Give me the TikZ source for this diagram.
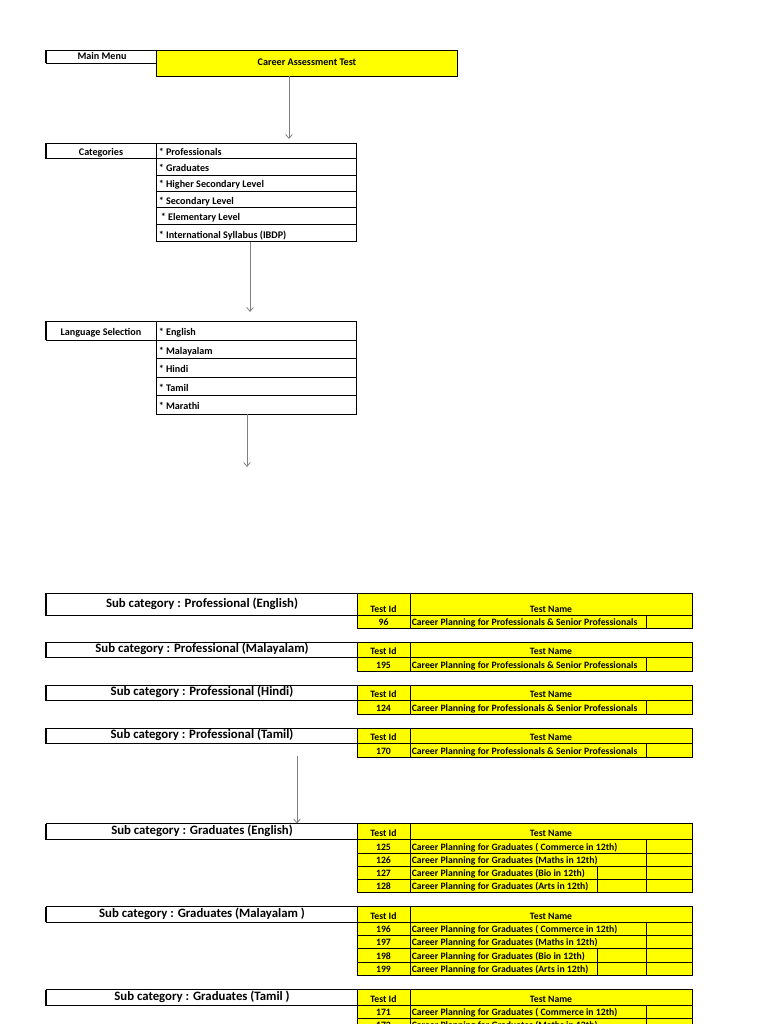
\documentclass[tikz,border=0pt]{standalone}
\usepackage{fontspec}
\setmainfont{Carlito}
\usetikzlibrary{fit,arrows.meta}
\definecolor{yel}{HTML}{FFFF00}
\definecolor{arrgray}{HTML}{7F7F7F}
\tikzset{
  box/.style={draw=black, line width=0.6pt, inner sep=0pt, outer sep=0pt},
  txt/.style={font=\fontsize{7.6}{9}\selectfont\bfseries, inner sep=0pt},
  ttxt/.style={font=\fontsize{7.3}{9}\selectfont\bfseries, inner sep=0pt},
  sub/.style={font=\fontsize{9.6}{11}\selectfont\bfseries, inner sep=0pt},
  arr/.style={draw=arrgray, line width=0.6pt, -{Straight Barb[length=3pt,width=5pt]}},
  thickleft/.style={line width=1.5pt}
}
\newcommand\bx[6]{\node[box,#6,fit={(#2,#3) (#4,#5)}] (#1) {};}
\newcommand\tL[4]{\node[txt,anchor=base west] (#1) at (#2,#3) {#4};}
\newcommand\tC[4]{\node[txt,anchor=base] (#1) at (#2,#3) {#4};}
\newcommand\tbL[4]{\node[ttxt,anchor=base west] (#1) at (#2,#3) {#4};}
\newcommand\tbC[4]{\node[ttxt,anchor=base] (#1) at (#2,#3) {#4};}
\newcommand\tablehead[4]{%
  \bx{#1box}{46}{#2}{357}{#3}{}
  \draw[thickleft] (#1box.north west) -- (#1box.south west);
  \node[sub] (#1sub) at (202,{(#2+#3)/2-0.5}) {#4};
  \bx{#1hid}{357}{#2}{410}{#3}{fill=yel}
  \bx{#1hnm}{410}{#2}{692}{#3}{fill=yel}
  \tbC{#1hidt}{383.5}{#3-3}{Test Id}
  \tbC{#1hnmt}{551}{#3-3}{Test Name}}
\newcommand\rowA[5]{%
  \bx{#1a}{357}{#2}{410}{#3}{fill=yel}
  \bx{#1b}{410}{#2}{646}{#3}{fill=yel}
  \bx{#1c}{646}{#2}{692}{#3}{fill=yel}
  \tbC{#1i}{383.5}{#3-3}{#4}
  \tbL{#1t}{411.5}{#3-3}{#5}}
\newcommand\rowB[5]{%
  \bx{#1a}{357}{#2}{410}{#3}{fill=yel}
  \bx{#1b}{410}{#2}{597}{#3}{fill=yel}
  \bx{#1c}{597}{#2}{646}{#3}{fill=yel}
  \bx{#1d}{646}{#2}{692}{#3}{fill=yel}
  \tbC{#1i}{383.5}{#3-3}{#4}
  \tbL{#1t}{411.5}{#3-3}{#5}}
\begin{document}
\begin{tikzpicture}[x=0.75pt,y=-0.75pt]
\useasboundingbox (0,0) rectangle (768,1024);
\clip (0,0) rectangle (768,1024);

% main menu
\bx{mm}{46}{50}{156}{63}{}
\draw[thickleft] (mm.north west) -- (mm.south west);
\bx{cat}{156}{50}{457}{76}{fill=yel}
\tC{mmT}{102}{59.5}{Main Menu}
\tC{catT}{307}{66}{Career Assessment Test}

% categories
\bx{cg}{46}{143}{156}{158.5}{}
\draw[thickleft] (cg.north west) -- (cg.south west);
\tC{cgT}{101}{155}{Categories}
\bx{c1}{156}{143}{356}{158.5}{}
\bx{c2}{156}{158.5}{356}{175}{}
\bx{c3}{156}{175}{356}{191}{}
\bx{c4}{156}{191}{356}{207.5}{}
\bx{c5}{156}{207.5}{356}{224}{}
\bx{c6}{156}{224}{356}{241.5}{}
\tL{c1t}{158.5}{155}{* Professionals}
\tL{c2t}{158.5}{171.5}{* Graduates}
\tL{c3t}{158.5}{187.5}{* Higher Secondary Level}
\tL{c4t}{158.5}{204}{* Secondary Level}
\tL{c5t}{160.5}{220.5}{* Elementary Level}
\tL{c6t}{158.5}{238}{* International Syllabus (IBDP)}

% language
\bx{lg}{46}{321}{156}{340}{}
\draw[thickleft] (lg.north west) -- (lg.south west);
\tC{lgT}{101}{335.5}{Language Selection}
\bx{l1}{156}{321}{356}{340}{}
\bx{l2}{156}{340}{356}{358.5}{}
\bx{l3}{156}{358.5}{356}{377}{}
\bx{l4}{156}{377}{356}{395.5}{}
\bx{l5}{156}{395.5}{356}{414}{}
\tL{l1t}{158.5}{335.5}{* English}
\tL{l2t}{158.5}{354}{* Malayalam}
\tL{l3t}{158.5}{372.5}{* Hindi}
\tL{l4t}{158.5}{391}{* Tamil}
\tL{l5t}{158.5}{409.5}{* Marathi}

% professional tables
\tablehead{pE}{593}{615.5}{Sub category : Professional (English)}
\rowA{pEr}{615.5}{628}{96}{Career Planning for Professionals \& Senior Professionals}
\tablehead{pM}{642}{657.5}{Sub category : Professional (Malayalam)}
\rowA{pMr}{657.5}{671}{195}{Career Planning for Professionals \& Senior Professionals}
\tablehead{pH}{685}{700.5}{Sub category : Professional (Hindi)}
\rowA{pHr}{700.5}{714}{124}{Career Planning for Professionals \& Senior Professionals}
\tablehead{pT}{728}{743.5}{Sub category : Professional (Tamil)}
\rowA{pTr}{743.5}{757}{170}{Career Planning for Professionals \& Senior Professionals}

% graduates tables
\tablehead{gE}{823.5}{839.5}{Sub category : Graduates (English)}
\rowA{gE1}{839.5}{853}{125}{Career Planning for Graduates ( Commerce in 12th)}
\rowA{gE2}{853}{866}{126}{Career Planning for Graduates (Maths in 12th)}
\rowB{gE3}{866}{879}{127}{Career Planning for Graduates (Bio in 12th)}
\rowB{gE4}{879}{892.5}{128}{Career Planning for Graduates (Arts in 12th)}

\tablehead{gM}{906.5}{922}{Sub category : Graduates (Malayalam )}
\rowA{gM1}{922}{935}{196}{Career Planning for Graduates ( Commerce in 12th)}
\rowA{gM2}{935}{948.5}{197}{Career Planning for Graduates (Maths in 12th)}
\rowB{gM3}{948.5}{962}{198}{Career Planning for Graduates (Bio in 12th)}
\rowB{gM4}{962}{975.5}{199}{Career Planning for Graduates (Arts in 12th)}

\tablehead{gT}{989.5}{1005.5}{Sub category : Graduates (Tamil )}
\rowA{gT1}{1005.5}{1018.5}{171}{Career Planning for Graduates ( Commerce in 12th)}
\rowA{gT2}{1018.5}{1031.5}{172}{Career Planning for Graduates (Maths in 12th)}

% connectors
\coordinate (e1) at (289,139);
\draw[arr] (e1 |- cat.south) -- (e1);
\coordinate (e2) at (250,312);
\draw[arr] (e2 |- c6.south) -- (e2);
\coordinate (e3) at (247,467);
\draw[arr] (e3 |- l5.south) -- (e3);
\coordinate (s4) at (297,756);
\draw[arr] (s4) -- (s4 |- gEbox.north);
\end{tikzpicture}
\end{document}
